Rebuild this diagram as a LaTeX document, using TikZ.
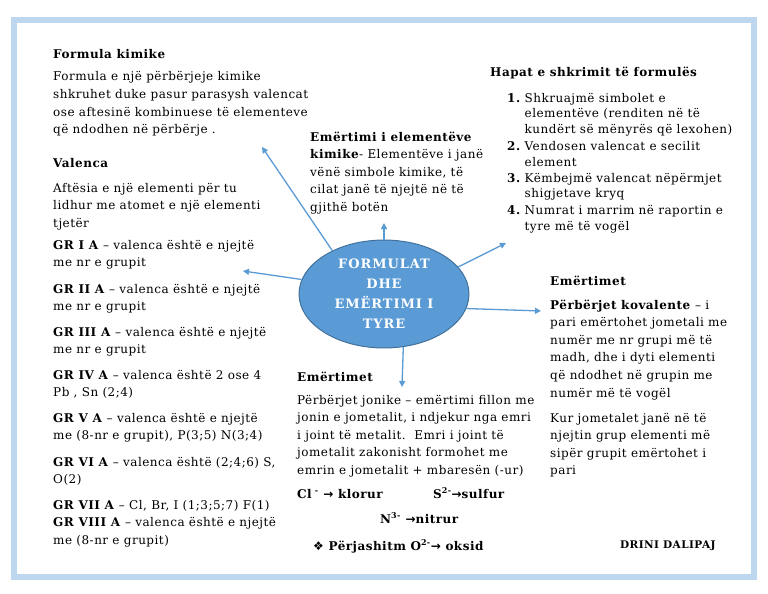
\documentclass[tikz,border=0pt]{standalone}
\usepackage{fontspec}
\setmainfont{DejaVu Serif}[LetterSpace=4]
\newfontfamily\symfont{DejaVu Sans}
\usetikzlibrary{arrows.meta,shapes.geometric}
\definecolor{framebl}{HTML}{BDD7EE}
\definecolor{ovalbl}{HTML}{5B9BD5}
\definecolor{ovaledge}{HTML}{41719C}
\newcommand{\toarr}{{\symfont\char"2192}}
\newcommand{\txtblock}[1]{\begin{tabular}[t]{@{}l@{}}#1\end{tabular}}
\tikzset{
  txt/.style={anchor=base west, inner sep=0pt, font=\fontsize{12}{17.6}\selectfont},
  lst/.style={anchor=base west, inner sep=0pt, font=\fontsize{12}{16}\selectfont},
  head/.style={txt, font=\fontsize{12}{17.6}\selectfont\bfseries},
  link/.style={draw=ovalbl, line width=1.3pt, -{Triangle[length=6pt,width=6pt]}},
}
\begin{document}
\begin{tikzpicture}[x=1pt,y=-1pt]
  \useasboundingbox (0,0) rectangle (768,594);
  \fill[white] (0,0) rectangle (768,594);
  \draw[framebl, line width=6pt] (14,20) rectangle (754,577);

  % left column
  \node[head] (fkhead) at (53,59) {Formula kimike};
  \node[txt] (fktext) at (53,81) {\txtblock{Formula e një përbërjeje kimike\\shkruhet duke pasur parasysh valencat\\ose aftesinë kombinuese të elementeve\\që ndodhen në përbërje .}};
  \node[head] (valhead) at (53,167) {Valenca};
  \node[txt] (valtext) at (53,192) {\txtblock{Aftësia e një elementi për tu\\lidhur me atomet e një elementi\\tjetër}};
  \node[txt] (gr1) at (53,249) {\txtblock{\textbf{GR I A} – valenca është e njejtë\\me nr e grupit}};
  \node[txt] (gr2) at (53,293) {\txtblock{\textbf{GR II A} – valenca është e njejtë\\me nr e grupit}};
  \node[txt] (gr3) at (53,336) {\txtblock{\textbf{GR III A} – valenca është e njejtë\\me nr e grupit}};
  \node[txt] (gr4) at (53,379) {\txtblock{\textbf{GR IV A} – valenca është 2 ose 4\\Pb , Sn (2;4)}};
  \node[txt] (gr5) at (53,422) {\txtblock{\textbf{GR V A} – valenca është e njejtë\\me (8-nr e grupit), P(3;5) N(3;4)}};
  \node[txt] (gr6) at (53,466) {\txtblock{\textbf{GR VI A} – valenca është (2;4;6) S,\\O(2)}};
  \node[txt] (gr7) at (53,509) {\txtblock{\textbf{GR VII A} – Cl, Br, I (1;3;5;7) F(1)\\\textbf{GR VIII A} – valenca është e njejtë\\me (8-nr e grupit)}};

  % centre
  \node[ellipse, fill=ovalbl, draw=ovaledge, line width=1pt, minimum width=170pt, minimum height=100pt,
        text=white, align=center, font=\fontsize{13}{20}\selectfont\bfseries\addfontfeature{LetterSpace=7}]
        (main) at (384,294) {FORMULAT\\DHE\\EMËRTIMI I\\TYRE};
  \node[txt] (simbol) at (310,141) {\txtblock{\textbf{Emërtimi i elementëve}\\\textbf{kimike}- Elementëve i janë\\vënë simbole kimike, të\\cilat janë të njejtë në të\\gjithë botën}};

  % right column
  \node[head] (haphead) at (490,77) {Hapat e shkrimit të formulës};
  \node[lst] (hapat) at (507,102) {\begin{tabular}[t]{@{}r@{\hspace{4pt}}l@{}}
    \textbf{1.} & Shkruajmë simbolet e\\ & elementëve (renditen në të\\ & kundërt së mënyrës që lexohen)\\
    \textbf{2.} & Vendosen valencat e secilit\\ & element\\
    \textbf{3.} & Këmbejmë valencat nëpërmjet\\ & shigjetave kryq\\
    \textbf{4.} & Numrat i marrim në raportin e\\ & tyre më të vogël
  \end{tabular}};
  \node[head] (kovhead) at (550,285) {Emërtimet};
  \node[txt] (koval) at (550,309) {\txtblock{\textbf{Përbërjet kovalente} – i\\pari emërtohet jometali me\\numër me nr grupi më të\\madh, dhe i dyti elementi\\që ndodhet në grupin me\\numër më të vogël}};
  \node[txt] (kur) at (550,422) {\txtblock{Kur jometalet janë në të\\njejtin grup elementi më\\sipër grupit emërtohet i\\pari}};

  % bottom
  \node[head] (jonhead) at (297,381) {Emërtimet};
  \node[txt] (jonike) at (297,404) {\txtblock{Përbërjet jonike – emërtimi fillon me\\jonin e jometalit, i ndjekur nga emri\\i joint të metalit.\ \ Emri i joint të\\jometalit zakonisht formohet me\\emrin e jometalit + mbaresën (-ur)}};
  \node[head] (klor) at (297,498) {Cl\textsuperscript{ -} \toarr{} klorur};
  \node[head] (sulf) at (433,498) {S\textsuperscript{2-}\toarr sulfur};
  \node[head] (nitr) at (380,523) {N\textsuperscript{3-} \toarr nitrur};
  \node[head] (perj) at (313,550) {{\symfont ❖} Përjashitm O\textsuperscript{2-}\toarr{} oksid};
  \node[head, font=\fontsize{10.5}{12}\selectfont\bfseries] (autor) at (620,548) {DRINI DALIPAJ};

  % arrows
  \coordinate (tipformula) at (262,147);
  \coordinate (tipgrupi) at (243,271);
  \coordinate (tipsimbol) at (384,223);
  \coordinate (tiphapat) at (506,243);
  \coordinate (tipkoval) at (541,311);
  \coordinate (tipjonike) at (402,387);
  \draw[link] (main.140) -- (tipformula);
  \draw[link] (main.170) -- (tipgrupi);
  \draw[link] (main.north) -- (tipsimbol);
  \draw[link] (main.20) -- (tiphapat);
  \draw[link] (main.-10) -- (tipkoval);
  \draw[link] (main.-70) -- (tipjonike);
\end{tikzpicture}
\end{document}
